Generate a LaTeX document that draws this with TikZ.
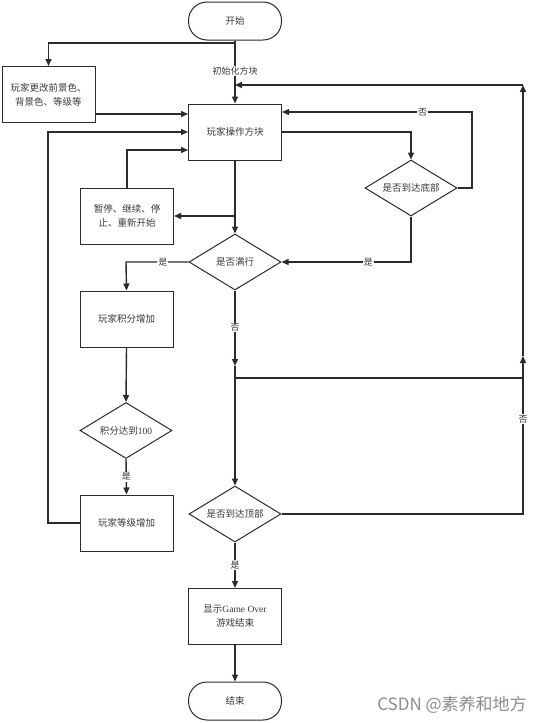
\documentclass[tikz,border=0pt]{standalone}
\usepackage{fontspec}
\setmainfont{Noto Sans CJK SC}
\newfontfamily\lat{Liberation Serif}
\usetikzlibrary{shapes.geometric,arrows.meta}
\definecolor{linec}{HTML}{2B2B2B}
\definecolor{txtc}{HTML}{3A3A3A}
\definecolor{wmc}{HTML}{8C8C8C}
\begin{document}
\begin{tikzpicture}[x=1pt,y=-1pt,
 box/.style={draw=linec, line width=1pt, minimum width=93pt, minimum height=56pt, inner sep=2pt, align=center, text=txtc, font=\fontsize{9.5}{14}\selectfont},
 term/.style={box, rounded corners=18.5pt, minimum height=38pt},
 dia/.style={draw=linec, line width=1pt, diamond, aspect=1.65, minimum width=92pt, minimum height=56pt, inner sep=0pt, text=txtc, font=\fontsize{9.5}{12}\selectfont},
 arr/.style={draw=linec, line width=1.4pt, -{Triangle[length=7pt,width=6pt]}},
 ln/.style={draw=linec, line width=1.4pt},
 lbl/.style={fill=white, inner sep=1pt, text=txtc, font=\fontsize{9}{10}\selectfont}]
\useasboundingbox[fill=white] (0,0) rectangle (553,723);

% nodes
\node[term] (start) at (235,21) {开始};
\node[box] (change) at (48.5,94.5) {玩家更改前景色、\\背景色、等级等};
\node[box] (op) at (235,132) {玩家操作方块};
\node[box] (pause) at (127,216) {暂停、继续、停\\止、重新开始};
\node[dia] (dbot) at (411,188) {是否到达底部};
\node[dia] (mh) at (235,262) {是否满行};
\node[box] (score) at (126.5,319) {玩家积分增加};
\node[dia] (d100) at (126,430.5) {积分达到{\lat 100}};
\node[box] (level) at (126.5,523) {玩家等级增加};
\node[dia] (dtop) at (235,514) {是否到达顶部};
\node[box] (go) at (235,616.5) {显示{\lat Game Over}\\游戏结束};
\node[term] (end) at (235,701) {结束};
\node[text=wmc, font=\fontsize{17}{20}\selectfont] (wm) at (452,705) {CSDN @素养和地方};

% helper coordinates
\coordinate (b1) at (235,43);
\coordinate (b2) at (235,216);
\coordinate (m1) at (235,366);
\coordinate (j1) at (235,378);
\coordinate (r0) at (523,514);
\coordinate (r1) at (523,356);
\coordinate (r2) at (523,378);
\coordinate (r3) at (523,85);
\coordinate (t1) at (235,85);

% connectors
\draw[arr] (start.south) -- node[lbl,pos=0.48]{初始化方块} (op.north);
\draw[arr] (b1) -| (change.north);
\draw[arr] (change.east |- 0,114) -- (op.west |- 0,114);
\draw[arr] (level.west) -- (48,523) -- (48,132) -- (op.west);
\draw[arr] (pause.north) |- (op.west |- 0,150);
\draw[arr] (op.east) -| (dbot.north);
\draw[arr] (dbot.east) -- (472,188) -- (472,112) -- node[lbl,pos=0.26]{否} (op.east |- 0,112);
\draw[arr] (dbot.south) -- (411,262) -- node[lbl,pos=0.33]{是} (mh.east);
\draw[arr] (op.south) -- (mh.north);
\draw[arr] (b2) -- (pause.east);
\draw[arr] (mh.west) -- node[lbl,pos=0.41]{是} (126,262) -- (score.north);
\draw[arr] (mh.south) -- node[lbl,pos=0.49]{否} (m1);
\draw[ln] (m1) -- (j1) -- (r2);
\draw[arr] (j1) -- (dtop.north);
\draw[arr] (score.south) -- (d100.north);
\draw[arr] (d100.south) -- node[lbl,pos=0.5]{是} (level.north);
\draw[arr] (dtop.east) -- (r0) -- node[lbl,pos=0.6]{否} (r1);
\draw[arr] (r1) -- (r3);
\draw[arr] (r3) -- (t1);
\draw[arr] (dtop.south) -- node[lbl,pos=0.49]{是} (go.north);
\draw[arr] (go.south) -- (end.north);
\end{tikzpicture}
\end{document}
